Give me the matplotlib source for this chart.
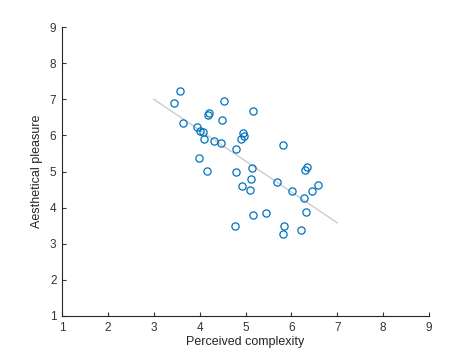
import matplotlib
matplotlib.use("Agg")
import matplotlib.pyplot as plt

complexity = [3.57, 3.44, 3.64, 3.94, 4.01, 4.07, 4.09, 4.18, 4.20, 4.53,
              4.49, 4.31, 4.46, 3.98, 4.16, 4.79, 4.94, 4.97, 4.90, 5.16,
              5.14, 5.12, 4.92, 5.09, 4.79, 4.77, 5.16, 5.44, 5.81, 5.68,
              6.01, 6.27, 6.34, 6.29, 6.45, 6.58, 6.32, 5.84, 5.81, 6.21]
pleasure = [7.23, 6.89, 6.34, 6.23, 6.12, 6.10, 5.90, 6.56, 6.62, 6.95,
            6.42, 5.84, 5.79, 5.37, 5.01, 5.62, 6.06, 5.99, 5.90, 6.67,
            5.10, 4.78, 4.60, 4.49, 4.98, 3.49, 3.79, 3.85, 5.73, 4.71,
            4.47, 4.26, 5.13, 5.04, 4.47, 4.62, 3.88, 3.49, 3.27, 3.38]
fit_x = [3.0, 7.0]
fit_y = [7.0, 3.58]
ticks = [1, 2, 3, 4, 5, 6, 7, 8, 9]

plt.rcParams['font.family'] = ['Liberation Sans', 'DejaVu Sans']
fig = plt.figure(figsize=(4.74, 3.55), dpi=100)
ax = fig.add_axes([62/474, 1-316/355, (429-62)/474, (316-27)/355])

ax.plot(fit_x, fit_y, color=(0.8, 0.8, 0.8), lw=1.0, zorder=1)
ax.plot(complexity, pleasure, 'o', mfc='none', mec='#0072BD', ms=5.2, mew=0.9, zorder=2)

ax.set_xlim(1, 9)
ax.set_ylim(1, 9)
ax.set_xticks(ticks)
ax.set_yticks(ticks)
for s in ['top', 'right']:
    ax.spines[s].set_visible(False)
for s in ['left', 'bottom']:
    ax.spines[s].set_color('#262626')
    ax.spines[s].set_linewidth(0.8)
ax.tick_params(direction='in', length=3, width=0.8, colors='#333333', labelsize=8.5, pad=4)
ax.set_xlabel('Perceived complexity', fontsize=9, color='#262626', labelpad=2)
ax.set_ylabel('Aesthetical pleasure', fontsize=9, color='#262626', labelpad=5)

fig.savefig('out.png', dpi=100)
